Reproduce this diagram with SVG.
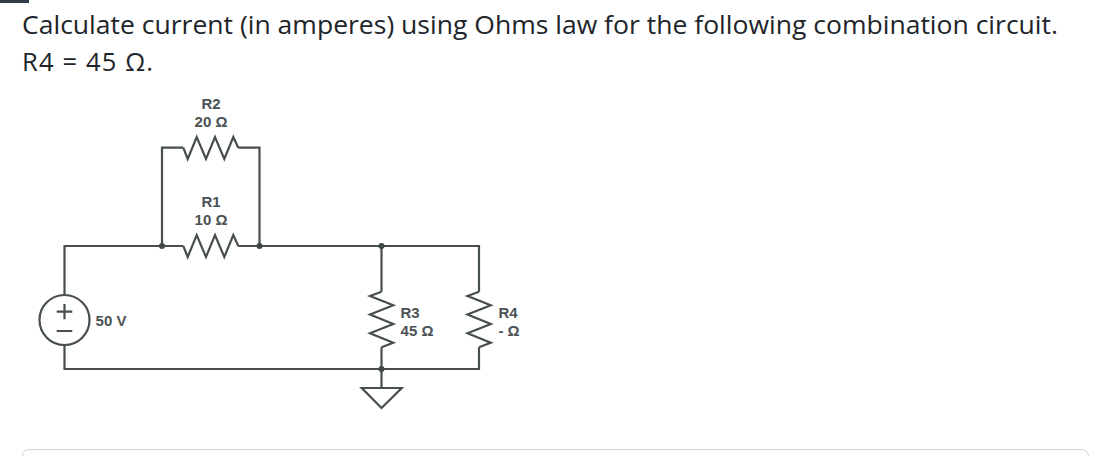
<svg xmlns="http://www.w3.org/2000/svg" width="1102" height="456" viewBox="0 0 1102 456">
<style>
.w{fill:none;stroke:#464e50;stroke-width:2.2;stroke-linejoin:miter}
.d{fill:#3f4749}
.l{font-family:"Liberation Sans",Arial,sans-serif;font-size:15px;font-weight:700;fill:#4a5254;text-anchor:middle}
.t{font-family:"Open Sans","Noto Sans",sans-serif;font-size:25.5px;fill:#212529}
</style>
<rect width="1102" height="456" fill="#fff"/>
<rect x="0" y="0" width="29" height="3" fill="#2f3d4a"/>
<text class="t" x="22" y="34" textLength="1036" lengthAdjust="spacingAndGlyphs">Calculate current (in amperes) using Ohms law for the following combination circuit.</text>
<text class="t" x="22" y="71" textLength="131">R4 = 45 Ω.</text>
<path d="M22.500 456Q22.500 449.500 30 449.500H1080Q1088.500 449.500 1088.500 456" fill="none" stroke="#ced4da"/>
<g id="connectors">
<path class="w" d="M64.500 295V246H183.300M238.300 246H381.500H479V291.700M64.500 345V369H479V347.300"/>
<path class="w" d="M162 246V147.700H183.300M238.300 147.700H259.500V246"/>
<path class="w" d="M381.500 246V291.700M381.500 347.300V388"/>
</g>
<g id="V1">
<circle class="w" cx="64.500" cy="320" r="25"/>
<path class="w" d="M56.700 311.700H72.300M64.500 304V319.300M56.700 331H72.300"/>
<text class="l" x="111" y="326">50 V</text>
</g>
<g id="R2">
<path class="w" d="M183.300 147.700L187.700 159L196.700 137L206 159L215 137L224.300 159L233.300 137L238.300 147.700"/>
<text class="l" x="211" y="109">R2</text>
<text class="l" x="211" y="127">20 Ω</text>
</g>
<g id="R1">
<path class="w" d="M183.300 246L187.700 257L196.700 235L206 257L215 235L224.300 257L233.300 235L238.300 246"/>
<text class="l" x="211" y="207">R1</text>
<text class="l" x="211" y="225">10 Ω</text>
</g>
<g id="R3">
<path class="w" d="M381.500 291.700L370 296L393.300 305.300L370 314.500L393.300 324L370 333.300L393.300 342.700L381.500 347.300"/>
<text class="l" x="410" y="318">R3</text>
<text class="l" x="417" y="336">45 Ω</text>
</g>
<g id="R4">
<path class="w" d="M479 291.700L467.500 296L490.800 305.300L467.500 314.500L490.800 324L467.500 333.300L490.800 342.700L479 347.300"/>
<text class="l" x="508" y="318">R4</text>
<text class="l" x="509" y="336">- Ω</text>
</g>
<g id="nodes">
<circle class="d" cx="162" cy="246" r="3"/>
<circle class="d" cx="259.500" cy="246" r="3"/>
<circle class="d" cx="381.500" cy="246" r="3"/>
<circle class="d" cx="381.500" cy="369" r="3"/>
</g>
<g id="GND">
<path class="w" d="M361.700 388H401.700L381.500 408Z"/>
</g>
</svg>
